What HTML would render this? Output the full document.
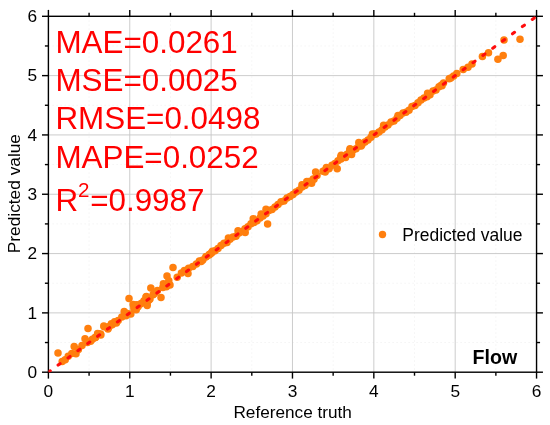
<!DOCTYPE html>
<html><head><meta charset="utf-8"><title>Flow</title>
<style>html,body{margin:0;padding:0;background:#fff;}svg{display:block;}text{font-family:"Liberation Sans",Arial,sans-serif;}</style>
</head><body>
<svg width="550" height="425" viewBox="0 0 550 425">
<rect width="550" height="425" fill="#ffffff"/>
<g stroke="#f4f4f4" stroke-width="1" stroke-dasharray="1.5 2.5" fill="none">
<line x1="89.08" y1="16.30" x2="89.08" y2="372.20"/>
<line x1="48.40" y1="342.54" x2="536.55" y2="342.54"/>
<line x1="170.44" y1="16.30" x2="170.44" y2="372.20"/>
<line x1="48.40" y1="283.23" x2="536.55" y2="283.23"/>
<line x1="251.80" y1="16.30" x2="251.80" y2="372.20"/>
<line x1="48.40" y1="223.91" x2="536.55" y2="223.91"/>
<line x1="333.15" y1="16.30" x2="333.15" y2="372.20"/>
<line x1="48.40" y1="164.59" x2="536.55" y2="164.59"/>
<line x1="414.51" y1="16.30" x2="414.51" y2="372.20"/>
<line x1="48.40" y1="105.27" x2="536.55" y2="105.27"/>
<line x1="495.87" y1="16.30" x2="495.87" y2="372.20"/>
<line x1="48.40" y1="45.96" x2="536.55" y2="45.96"/>
</g>
<g stroke="#c6c6c6" stroke-width="0.9" fill="none">
<line x1="129.76" y1="16.30" x2="129.76" y2="372.20"/>
<line x1="48.40" y1="312.88" x2="536.55" y2="312.88"/>
<line x1="211.12" y1="16.30" x2="211.12" y2="372.20"/>
<line x1="48.40" y1="253.57" x2="536.55" y2="253.57"/>
<line x1="292.47" y1="16.30" x2="292.47" y2="372.20"/>
<line x1="48.40" y1="194.25" x2="536.55" y2="194.25"/>
<line x1="373.83" y1="16.30" x2="373.83" y2="372.20"/>
<line x1="48.40" y1="134.93" x2="536.55" y2="134.93"/>
<line x1="455.19" y1="16.30" x2="455.19" y2="372.20"/>
<line x1="48.40" y1="75.62" x2="536.55" y2="75.62"/>
</g>
<g fill="#ff7f0e">
<circle cx="58.0" cy="353.0" r="3.75"/>
<circle cx="88.0" cy="328.6" r="3.75"/>
<circle cx="62.2" cy="361.6" r="3.75"/>
<circle cx="65.2" cy="359.8" r="3.75"/>
<circle cx="68.2" cy="356.2" r="3.75"/>
<circle cx="71.8" cy="353.4" r="3.75"/>
<circle cx="74.2" cy="346.6" r="3.75"/>
<circle cx="76.0" cy="353.8" r="3.75"/>
<circle cx="78.4" cy="349.6" r="3.75"/>
<circle cx="82.0" cy="345.4" r="3.75"/>
<circle cx="85.0" cy="338.8" r="3.75"/>
<circle cx="87.4" cy="342.4" r="3.75"/>
<circle cx="90.6" cy="341.2" r="3.75"/>
<circle cx="95.2" cy="337.6" r="3.75"/>
<circle cx="97.6" cy="333.4" r="3.75"/>
<circle cx="100.6" cy="334.0" r="3.75"/>
<circle cx="104.2" cy="326.8" r="3.75"/>
<circle cx="108.4" cy="327.4" r="3.75"/>
<circle cx="111.4" cy="323.8" r="3.75"/>
<circle cx="129.0" cy="298.6" r="3.75"/>
<circle cx="92.4" cy="339.2" r="3.75"/>
<circle cx="95.4" cy="337.4" r="3.75"/>
<circle cx="98.4" cy="333.8" r="3.75"/>
<circle cx="100.8" cy="335.0" r="3.75"/>
<circle cx="103.8" cy="326.0" r="3.75"/>
<circle cx="108.0" cy="329.0" r="3.75"/>
<circle cx="112.2" cy="324.8" r="3.75"/>
<circle cx="114.6" cy="321.8" r="3.75"/>
<circle cx="118.2" cy="320.6" r="3.75"/>
<circle cx="121.8" cy="317.0" r="3.75"/>
<circle cx="124.2" cy="311.6" r="3.75"/>
<circle cx="127.2" cy="313.4" r="3.75"/>
<circle cx="130.8" cy="314.0" r="3.75"/>
<circle cx="133.2" cy="304.4" r="3.75"/>
<circle cx="136.2" cy="309.8" r="3.75"/>
<circle cx="138.0" cy="306.8" r="3.75"/>
<circle cx="141.6" cy="303.2" r="3.75"/>
<circle cx="146.4" cy="296.6" r="3.75"/>
<circle cx="147.0" cy="303.8" r="3.75"/>
<circle cx="150.0" cy="299.0" r="3.75"/>
<circle cx="153.0" cy="294.8" r="3.75"/>
<circle cx="155.4" cy="292.4" r="3.75"/>
<circle cx="126.0" cy="315.8" r="3.75"/>
<circle cx="124.8" cy="314.0" r="3.75"/>
<circle cx="133.8" cy="308.0" r="3.75"/>
<circle cx="144.0" cy="300.8" r="3.75"/>
<circle cx="147.6" cy="300.8" r="3.75"/>
<circle cx="109.2" cy="326.6" r="3.75"/>
<circle cx="116.4" cy="323.0" r="3.75"/>
<circle cx="173.0" cy="267.6" r="3.75"/>
<circle cx="167.0" cy="276.0" r="3.75"/>
<circle cx="150.8" cy="288.0" r="3.75"/>
<circle cx="161.0" cy="297.6" r="3.75"/>
<circle cx="147.2" cy="305.4" r="3.75"/>
<circle cx="136.4" cy="304.8" r="3.75"/>
<circle cx="140.0" cy="304.2" r="3.75"/>
<circle cx="146.0" cy="297.0" r="3.75"/>
<circle cx="149.0" cy="300.0" r="3.75"/>
<circle cx="153.8" cy="294.0" r="3.75"/>
<circle cx="157.4" cy="290.4" r="3.75"/>
<circle cx="162.8" cy="287.4" r="3.75"/>
<circle cx="163.4" cy="283.8" r="3.75"/>
<circle cx="166.4" cy="286.8" r="3.75"/>
<circle cx="170.0" cy="285.0" r="3.75"/>
<circle cx="168.8" cy="280.8" r="3.75"/>
<circle cx="177.2" cy="277.2" r="3.75"/>
<circle cx="181.4" cy="273.0" r="3.75"/>
<circle cx="184.4" cy="270.6" r="3.75"/>
<circle cx="188.0" cy="273.6" r="3.75"/>
<circle cx="188.6" cy="268.2" r="3.75"/>
<circle cx="192.8" cy="266.4" r="3.75"/>
<circle cx="196.4" cy="264.0" r="3.75"/>
<circle cx="199.4" cy="261.0" r="3.75"/>
<circle cx="199.6" cy="261.6" r="3.75"/>
<circle cx="202.8" cy="260.0" r="3.75"/>
<circle cx="206.0" cy="256.8" r="3.75"/>
<circle cx="209.2" cy="254.4" r="3.75"/>
<circle cx="212.4" cy="251.2" r="3.75"/>
<circle cx="201.2" cy="261.6" r="3.75"/>
<circle cx="210.8" cy="253.6" r="3.75"/>
<circle cx="267.6" cy="223.9" r="3.75"/>
<circle cx="228.4" cy="238.0" r="3.75"/>
<circle cx="238.0" cy="230.8" r="3.75"/>
<circle cx="253.2" cy="218.8" r="3.75"/>
<circle cx="245.2" cy="232.4" r="3.75"/>
<circle cx="261.2" cy="214.0" r="3.75"/>
<circle cx="266.0" cy="209.2" r="3.75"/>
<circle cx="206.0" cy="256.7" r="3.75"/>
<circle cx="209.0" cy="255.0" r="3.75"/>
<circle cx="212.0" cy="252.5" r="3.75"/>
<circle cx="215.0" cy="250.8" r="3.75"/>
<circle cx="218.0" cy="248.6" r="3.75"/>
<circle cx="221.0" cy="245.4" r="3.75"/>
<circle cx="224.0" cy="243.2" r="3.75"/>
<circle cx="227.0" cy="242.5" r="3.75"/>
<circle cx="230.0" cy="239.2" r="3.75"/>
<circle cx="233.0" cy="237.0" r="3.75"/>
<circle cx="236.0" cy="236.2" r="3.75"/>
<circle cx="239.0" cy="233.1" r="3.75"/>
<circle cx="242.0" cy="231.5" r="3.75"/>
<circle cx="245.0" cy="228.7" r="3.75"/>
<circle cx="248.0" cy="226.8" r="3.75"/>
<circle cx="251.0" cy="223.8" r="3.75"/>
<circle cx="254.0" cy="222.4" r="3.75"/>
<circle cx="257.0" cy="220.7" r="3.75"/>
<circle cx="260.0" cy="217.9" r="3.75"/>
<circle cx="263.0" cy="216.1" r="3.75"/>
<circle cx="266.0" cy="213.8" r="3.75"/>
<circle cx="269.0" cy="210.5" r="3.75"/>
<circle cx="272.0" cy="209.6" r="3.75"/>
<circle cx="275.0" cy="207.1" r="3.75"/>
<circle cx="278.0" cy="204.4" r="3.75"/>
<circle cx="281.0" cy="201.7" r="3.75"/>
<circle cx="284.0" cy="201.0" r="3.75"/>
<circle cx="287.0" cy="198.1" r="3.75"/>
<circle cx="290.0" cy="196.4" r="3.75"/>
<circle cx="293.0" cy="194.5" r="3.75"/>
<circle cx="315.6" cy="172.0" r="3.75"/>
<circle cx="337.2" cy="168.8" r="3.75"/>
<circle cx="341.2" cy="155.2" r="3.75"/>
<circle cx="350.0" cy="148.8" r="3.75"/>
<circle cx="351.6" cy="154.4" r="3.75"/>
<circle cx="358.8" cy="142.4" r="3.75"/>
<circle cx="311.6" cy="183.2" r="3.75"/>
<circle cx="325.2" cy="172.0" r="3.75"/>
<circle cx="306.8" cy="181.6" r="3.75"/>
<circle cx="302.0" cy="184.8" r="3.75"/>
<circle cx="296.0" cy="192.0" r="3.75"/>
<circle cx="299.0" cy="190.2" r="3.75"/>
<circle cx="302.0" cy="187.1" r="3.75"/>
<circle cx="305.0" cy="185.6" r="3.75"/>
<circle cx="308.0" cy="182.8" r="3.75"/>
<circle cx="311.0" cy="181.5" r="3.75"/>
<circle cx="314.0" cy="179.2" r="3.75"/>
<circle cx="317.0" cy="175.6" r="3.75"/>
<circle cx="323.0" cy="171.3" r="3.75"/>
<circle cx="326.0" cy="169.3" r="3.75"/>
<circle cx="329.0" cy="168.4" r="3.75"/>
<circle cx="332.0" cy="165.3" r="3.75"/>
<circle cx="335.0" cy="163.5" r="3.75"/>
<circle cx="338.0" cy="160.7" r="3.75"/>
<circle cx="341.0" cy="158.9" r="3.75"/>
<circle cx="344.0" cy="156.5" r="3.75"/>
<circle cx="347.0" cy="154.2" r="3.75"/>
<circle cx="350.0" cy="152.5" r="3.75"/>
<circle cx="353.0" cy="150.3" r="3.75"/>
<circle cx="356.0" cy="148.7" r="3.75"/>
<circle cx="359.0" cy="146.1" r="3.75"/>
<circle cx="362.0" cy="144.4" r="3.75"/>
<circle cx="365.0" cy="142.0" r="3.75"/>
<circle cx="368.0" cy="140.1" r="3.75"/>
<circle cx="371.0" cy="137.3" r="3.75"/>
<circle cx="374.0" cy="134.2" r="3.75"/>
<circle cx="427.6" cy="93.2" r="3.75"/>
<circle cx="398.0" cy="115.6" r="3.75"/>
<circle cx="383.6" cy="125.2" r="3.75"/>
<circle cx="372.4" cy="134.0" r="3.75"/>
<circle cx="441.2" cy="85.2" r="3.75"/>
<circle cx="450.8" cy="78.0" r="3.75"/>
<circle cx="376.0" cy="134.0" r="3.75"/>
<circle cx="379.0" cy="132.0" r="3.75"/>
<circle cx="382.0" cy="129.7" r="3.75"/>
<circle cx="385.0" cy="127.0" r="3.75"/>
<circle cx="388.0" cy="125.0" r="3.75"/>
<circle cx="391.0" cy="121.9" r="3.75"/>
<circle cx="394.0" cy="120.9" r="3.75"/>
<circle cx="397.0" cy="118.2" r="3.75"/>
<circle cx="400.0" cy="115.5" r="3.75"/>
<circle cx="403.0" cy="112.9" r="3.75"/>
<circle cx="406.0" cy="112.2" r="3.75"/>
<circle cx="409.0" cy="110.2" r="3.75"/>
<circle cx="412.0" cy="106.4" r="3.75"/>
<circle cx="415.0" cy="105.5" r="3.75"/>
<circle cx="418.0" cy="102.7" r="3.75"/>
<circle cx="421.0" cy="100.0" r="3.75"/>
<circle cx="424.0" cy="98.1" r="3.75"/>
<circle cx="427.0" cy="96.7" r="3.75"/>
<circle cx="430.0" cy="94.7" r="3.75"/>
<circle cx="433.0" cy="91.1" r="3.75"/>
<circle cx="436.0" cy="89.9" r="3.75"/>
<circle cx="439.0" cy="86.7" r="3.75"/>
<circle cx="442.0" cy="85.7" r="3.75"/>
<circle cx="340.8" cy="156.8" r="3.75"/>
<circle cx="345.6" cy="157.4" r="3.75"/>
<circle cx="351.0" cy="153.8" r="3.75"/>
<circle cx="349.8" cy="150.2" r="3.75"/>
<circle cx="361.2" cy="146.0" r="3.75"/>
<circle cx="326.4" cy="167.6" r="3.75"/>
<circle cx="328.8" cy="168.8" r="3.75"/>
<circle cx="309.0" cy="181.4" r="3.75"/>
<circle cx="313.2" cy="179.0" r="3.75"/>
<circle cx="520.0" cy="39.2" r="3.75"/>
<circle cx="504.0" cy="40.0" r="3.75"/>
<circle cx="503.2" cy="55.5" r="3.75"/>
<circle cx="497.9" cy="59.2" r="3.75"/>
<circle cx="488.5" cy="52.8" r="3.75"/>
<circle cx="482.4" cy="56.5" r="3.75"/>
<circle cx="472.0" cy="64.0" r="3.75"/>
<circle cx="468.0" cy="67.2" r="3.75"/>
<circle cx="463.2" cy="69.6" r="3.75"/>
<circle cx="456.8" cy="73.6" r="3.75"/>
<circle cx="453.6" cy="76.0" r="3.75"/>
<circle cx="443.5" cy="83.1" r="3.75"/>
<circle cx="449.2" cy="78.8" r="3.75"/>
</g>
<g stroke="#000" stroke-width="1.4" fill="none">
<rect x="48.40" y="16.30" width="488.15" height="355.90"/>
<line x1="48.40" y1="372.20" x2="48.40" y2="378.60"/>
<line x1="48.40" y1="16.30" x2="48.40" y2="9.90"/>
<line x1="48.40" y1="372.20" x2="42.00" y2="372.20"/>
<line x1="536.55" y1="372.20" x2="542.95" y2="372.20"/>
<line x1="129.76" y1="372.20" x2="129.76" y2="378.60"/>
<line x1="129.76" y1="16.30" x2="129.76" y2="9.90"/>
<line x1="48.40" y1="312.88" x2="42.00" y2="312.88"/>
<line x1="536.55" y1="312.88" x2="542.95" y2="312.88"/>
<line x1="211.12" y1="372.20" x2="211.12" y2="378.60"/>
<line x1="211.12" y1="16.30" x2="211.12" y2="9.90"/>
<line x1="48.40" y1="253.57" x2="42.00" y2="253.57"/>
<line x1="536.55" y1="253.57" x2="542.95" y2="253.57"/>
<line x1="292.47" y1="372.20" x2="292.47" y2="378.60"/>
<line x1="292.47" y1="16.30" x2="292.47" y2="9.90"/>
<line x1="48.40" y1="194.25" x2="42.00" y2="194.25"/>
<line x1="536.55" y1="194.25" x2="542.95" y2="194.25"/>
<line x1="373.83" y1="372.20" x2="373.83" y2="378.60"/>
<line x1="373.83" y1="16.30" x2="373.83" y2="9.90"/>
<line x1="48.40" y1="134.93" x2="42.00" y2="134.93"/>
<line x1="536.55" y1="134.93" x2="542.95" y2="134.93"/>
<line x1="455.19" y1="372.20" x2="455.19" y2="378.60"/>
<line x1="455.19" y1="16.30" x2="455.19" y2="9.90"/>
<line x1="48.40" y1="75.62" x2="42.00" y2="75.62"/>
<line x1="536.55" y1="75.62" x2="542.95" y2="75.62"/>
<line x1="536.55" y1="372.20" x2="536.55" y2="378.60"/>
<line x1="536.55" y1="16.30" x2="536.55" y2="9.90"/>
<line x1="48.40" y1="16.30" x2="42.00" y2="16.30"/>
<line x1="536.55" y1="16.30" x2="542.95" y2="16.30"/>
<line x1="89.08" y1="372.20" x2="89.08" y2="375.70"/>
<line x1="89.08" y1="16.30" x2="89.08" y2="12.80"/>
<line x1="48.40" y1="342.54" x2="44.90" y2="342.54"/>
<line x1="536.55" y1="342.54" x2="540.05" y2="342.54"/>
<line x1="170.44" y1="372.20" x2="170.44" y2="375.70"/>
<line x1="170.44" y1="16.30" x2="170.44" y2="12.80"/>
<line x1="48.40" y1="283.23" x2="44.90" y2="283.23"/>
<line x1="536.55" y1="283.23" x2="540.05" y2="283.23"/>
<line x1="251.80" y1="372.20" x2="251.80" y2="375.70"/>
<line x1="251.80" y1="16.30" x2="251.80" y2="12.80"/>
<line x1="48.40" y1="223.91" x2="44.90" y2="223.91"/>
<line x1="536.55" y1="223.91" x2="540.05" y2="223.91"/>
<line x1="333.15" y1="372.20" x2="333.15" y2="375.70"/>
<line x1="333.15" y1="16.30" x2="333.15" y2="12.80"/>
<line x1="48.40" y1="164.59" x2="44.90" y2="164.59"/>
<line x1="536.55" y1="164.59" x2="540.05" y2="164.59"/>
<line x1="414.51" y1="372.20" x2="414.51" y2="375.70"/>
<line x1="414.51" y1="16.30" x2="414.51" y2="12.80"/>
<line x1="48.40" y1="105.27" x2="44.90" y2="105.27"/>
<line x1="536.55" y1="105.27" x2="540.05" y2="105.27"/>
<line x1="495.87" y1="372.20" x2="495.87" y2="375.70"/>
<line x1="495.87" y1="16.30" x2="495.87" y2="12.80"/>
<line x1="48.40" y1="45.96" x2="44.90" y2="45.96"/>
<line x1="536.55" y1="45.96" x2="540.05" y2="45.96"/>
</g>
<clipPath id="pc"><rect x="48.40" y="16.30" width="488.15" height="355.90"/></clipPath>
<line clip-path="url(#pc)" x1="48.40" y1="372.20" x2="536.55" y2="16.30" stroke="#ff0d0d" stroke-width="3.1" stroke-linecap="round" stroke-dasharray="2.5 9.725" stroke-dashoffset="0.2"/>
<g font-size="17.3" fill="#000">
<text x="48.40" y="396.7" text-anchor="middle">0</text>
<text x="37.1" y="377.90" text-anchor="end">0</text>
<text x="129.76" y="396.7" text-anchor="middle">1</text>
<text x="37.1" y="318.58" text-anchor="end">1</text>
<text x="211.12" y="396.7" text-anchor="middle">2</text>
<text x="37.1" y="259.27" text-anchor="end">2</text>
<text x="292.47" y="396.7" text-anchor="middle">3</text>
<text x="37.1" y="199.95" text-anchor="end">3</text>
<text x="373.83" y="396.7" text-anchor="middle">4</text>
<text x="37.1" y="140.63" text-anchor="end">4</text>
<text x="455.19" y="396.7" text-anchor="middle">5</text>
<text x="37.1" y="81.32" text-anchor="end">5</text>
<text x="536.55" y="396.7" text-anchor="middle">6</text>
<text x="37.1" y="22.00" text-anchor="end">6</text>
</g>
<text x="292.7" y="418.3" font-size="17.2" text-anchor="middle" fill="#000">Reference truth</text>
<text transform="translate(20.1,193.6) rotate(-90)" font-size="17.3" text-anchor="middle" fill="#000">Predicted value</text>
<g font-size="31.4" fill="#ff0000">
<text x="55.4" y="52.6">MAE=0.0261</text>
<text x="55.4" y="90.9">MSE=0.0025</text>
<text x="55.4" y="129.3">RMSE=0.0498</text>
<text x="55.4" y="167.7">MAPE=0.0252</text>
<text x="55.4" y="210.7">R<tspan font-size="20.6" dy="-13.5">2</tspan><tspan dy="13.5" dx="0.6">=0.9987</tspan></text>
</g>
<circle cx="382.5" cy="234.5" r="3.7" fill="#ff7f0e"/>
<text x="402.3" y="240.6" font-size="17.45" fill="#000">Predicted value</text>
<text x="472.5" y="363.8" font-size="19.6" font-weight="bold" fill="#000">Flow</text>
</svg></body></html>
